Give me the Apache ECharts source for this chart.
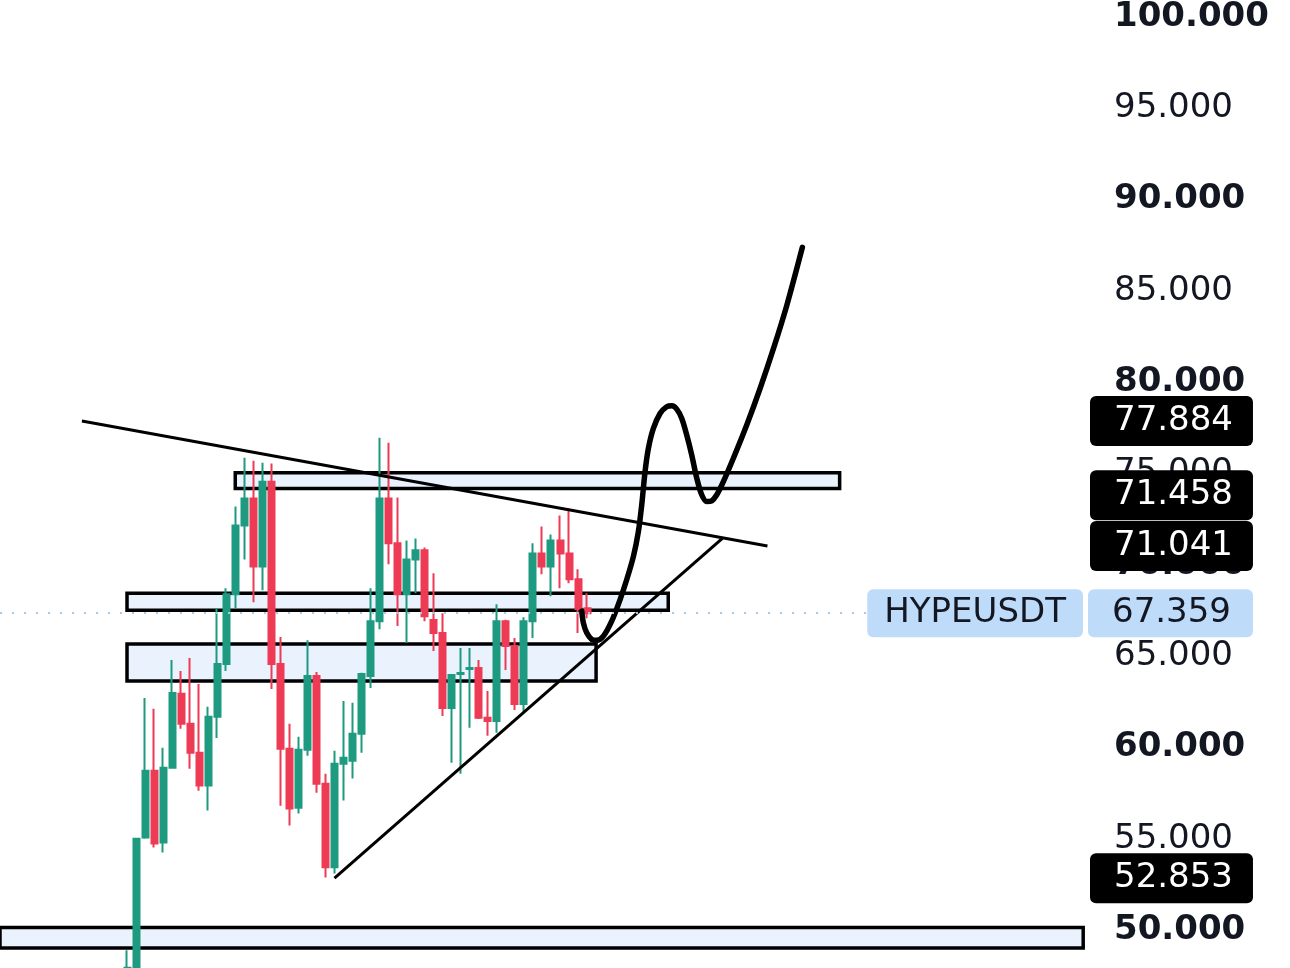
<!DOCTYPE html>
<html>
<head>
<meta charset="utf-8">
<script src="https://cdn.jsdelivr.net/npm/echarts@6/dist/echarts.min.js"></script>
<style>
html,body{margin:0;padding:0;background:#fff;}
#chart{width:1290px;height:968px;}
</style>
</head>
<body>
<div id="chart"></div>
<script>
// ---- data ----
const opens  = [47.50,47.60,55.07,58.73,54.80,58.90,62.94,61.30,59.72,57.92,61.68,64.57,68.39,72.16,73.63,69.92,74.56,64.57,59.93,56.71,59.88,63.92,58.02,53.44,59.12,59.28,60.75,63.92,66.92,73.63,71.18,68.39,70.30,70.80,66.98,66.27,62.17,64.03,64.30,64.35,61.63,61.46,66.92,65.56,62.39,66.92,70.63,69.92,71.34,70.63,69.21,67.63];
const closes = [47.95,55.00,58.73,54.75,58.90,62.99,61.30,59.72,57.92,61.68,64.57,68.39,72.16,73.63,69.92,74.56,64.57,59.93,56.66,59.88,63.92,58.02,53.44,59.12,59.44,60.75,64.03,66.92,73.63,71.18,68.39,70.30,70.80,67.19,66.27,62.17,63.97,64.08,64.35,61.63,61.46,66.92,65.56,62.39,66.92,70.63,69.92,71.34,70.63,69.21,67.58,67.359];
const lows   = [47.30,47.40,55.00,54.53,54.26,58.85,61.03,58.84,57.64,56.55,60.53,64.19,67.63,70.30,67.96,68.61,63.21,56.82,55.73,56.39,59.55,57.53,52.89,53.11,57.10,58.30,59.72,63.26,66.48,70.03,66.65,65.72,68.45,66.92,65.28,61.73,59.17,58.57,61.08,61.57,60.64,60.81,64.25,62.06,61.90,66.00,69.49,68.28,68.72,69.00,66.27,67.08];
const highs  = [48.90,55.05,62.72,62.12,59.99,64.79,64.19,64.90,63.48,62.23,67.63,68.72,73.20,75.87,75.71,75.60,75.55,66.05,61.30,60.59,65.88,64.14,58.57,59.83,62.55,62.45,64.10,68.72,76.96,76.69,73.69,71.34,71.45,70.96,69.54,67.36,64.00,65.45,65.45,64.79,63.10,67.85,67.00,66.00,67.14,71.18,72.10,71.67,72.71,73.09,69.76,68.45];

// zones: [xStart, xEnd, priceLow, priceHigh]
const zones = [
  [12, 79, 74.18, 75.05],
  [0, 60, 67.52, 68.45],
  [0, 52, 63.65, 65.67],
  [-15, 106, 49.03, 50.15]
];

// trendlines [x, price]
const descLine = [[-5, 77.884], [71, 71.041]];
const ascLine  = [[23, 52.853], [66, 71.458]];

// projected path [x, price]
const pathPts = [
  [50.41,67.47],[50.59,66.83],[50.96,66.28],[51.52,65.92],[52.07,65.87],[52.81,66.10],
  [53.73,66.92],[54.66,68.10],[55.40,69.20],[56.14,70.47],[56.69,71.83],[57.06,73.29],
  [57.43,75.11],[57.80,76.38],[58.35,77.47],[59.09,78.29],[59.83,78.66],[60.39,78.71],
  [60.94,78.53],[61.50,78.02],[62.05,77.11],[62.60,76.02],[63.16,74.75],[63.71,73.84],
  [64.27,73.47],[64.82,73.51],[65.38,73.84],[66.11,74.56],[67.22,75.84],[68.70,77.66],
  [70.18,79.66],[71.66,81.84],[73.14,84.21],[74.87,87.39]
];

const axisTicks = [50,55,60,65,70,75,80,85,90,95,100];
const symbolName = 'HYPEUSDT';
const lastPrice = 67.359;
const endLabels = [77.884, 71.458, 71.041, 52.853];

// ---- build ----
const candleData = opens.map((o, i) => [i, o, closes[i], lows[i], highs[i]]);
const FONT = 'DejaVu Sans';
const HIDDEN_LINE = {color: 'rgba(0,0,0,0)', width: 1, type: 'solid'};

const areaData = zones.map(z => [{xAxis: z[0], yAxis: z[3]}, {xAxis: z[1], yAxis: z[2]}]);

function blackLabel(v, offY) {
  return {
    yAxis: v,
    lineStyle: HIDDEN_LINE,
    label: {
      show: true, position: 'end', distance: 5,
      formatter: v.toFixed(3),
      color: '#fff', backgroundColor: '#000', borderRadius: 6,
      fontFamily: FONT, fontSize: 34, lineHeight: 40,
      padding: [5, 20, 5, 24],
      offset: [0, offY || 0]
    }
  };
}

const chart = echarts.init(document.getElementById('chart'));
chart.setOption({
  animation: false,
  backgroundColor: '#ffffff',
  grid: {left: 0, right: 205, top: 0, bottom: 0},
  xAxis: {
    type: 'value', min: -14.08, max: 106.2, show: false
  },
  yAxis: {
    type: 'value', position: 'right', min: 47.93, max: 100.764,
    axisLine: {show: false}, axisTick: {show: false}, splitLine: {show: false},
    axisLabel: {
      customValues: axisTicks,
      margin: 29,
      formatter: v => (v % 10 === 0 ? '{b|' : '{r|') + v.toFixed(3) + '}',
      rich: {
        b: {fontFamily: FONT, fontSize: 34, fontWeight: 'bold', color: '#131722'},
        r: {fontFamily: FONT, fontSize: 34, color: '#131722'}
      }
    }
  },
  series: [
    {
      type: 'candlestick',
      data: candleData,
      barWidth: 6.5,
      silent: true,
      itemStyle: {
        color: '#1e9a80', borderColor: '#1e9a80',
        color0: '#ee3b55', borderColor0: '#ee3b55',
        borderWidth: 2
      },
      markArea: {
        silent: true,
        itemStyle: {color: '#eaf2fd', borderColor: '#000', borderWidth: 3.5},
        data: areaData
      },
      markLine: {
        silent: true, symbol: 'none', animation: false,
        data: [
          {
            yAxis: lastPrice,
            lineStyle: {color: '#a7c8ef', type: [2, 10], width: 2},
            label: {
              show: true, position: 'insideEnd', distance: 2,
              formatter: symbolName,
              color: '#131722', backgroundColor: '#bfdbfa', borderRadius: 6,
              fontFamily: FONT, fontSize: 34, lineHeight: 40,
              padding: [4, 17, 4, 17]
            }
          },
          {
            yAxis: lastPrice,
            lineStyle: HIDDEN_LINE,
            label: {
              show: true, position: 'end', distance: 3,
              formatter: lastPrice.toFixed(3),
              color: '#131722', backgroundColor: '#bfdbfa', borderRadius: 6,
              fontFamily: FONT, fontSize: 34, lineHeight: 40,
              padding: [4, 22, 4, 24]
            }
          },
          blackLabel(endLabels[0], 0),
          blackLabel(endLabels[1], -43),
          blackLabel(endLabels[2], 0),
          blackLabel(endLabels[3], 0)
        ]
      }
    },
    {
      type: 'line', data: descLine, symbol: 'none', silent: true, z: 4,
      lineStyle: {color: '#000', width: 3}
    },
    {
      type: 'line', data: ascLine, symbol: 'none', silent: true, z: 4,
      lineStyle: {color: '#000', width: 3}
    },
    {
      type: 'line', data: pathPts, symbol: 'none', silent: true, z: 4,
      smooth: 0.3,
      lineStyle: {color: '#000', width: 5.5, cap: 'round', join: 'round'}
    }
  ]
});
</script>
</body>
</html>
